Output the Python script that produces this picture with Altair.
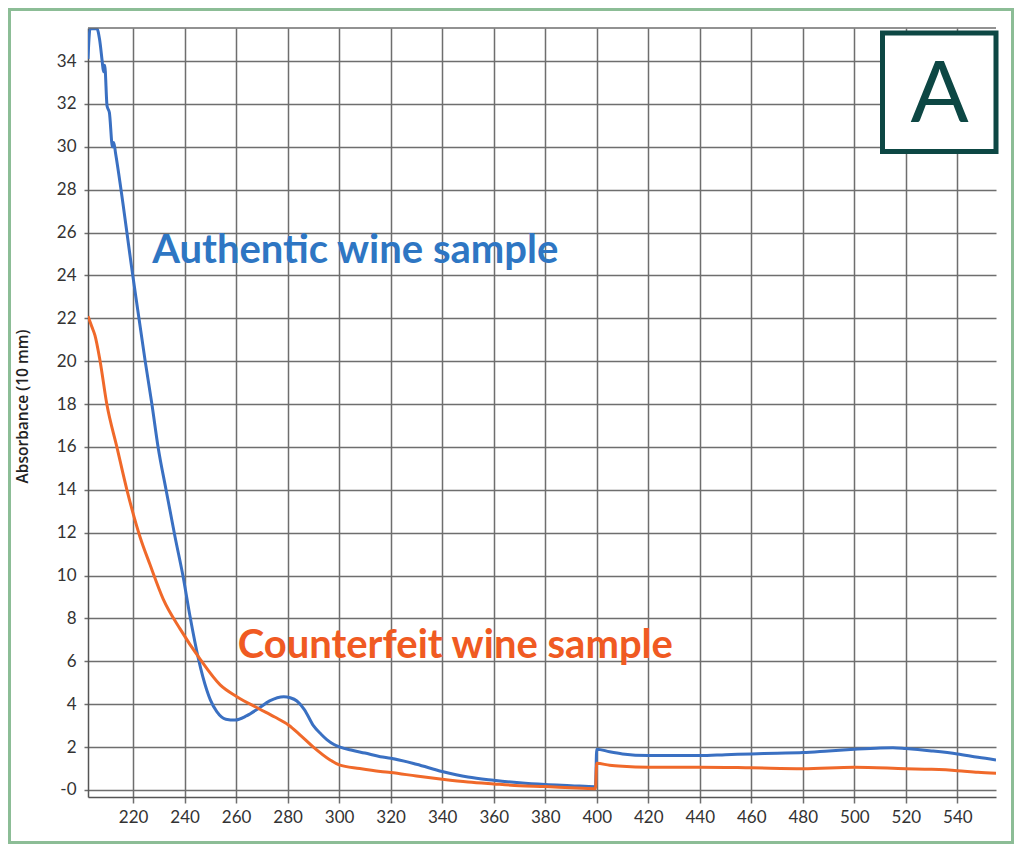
import altair as alt
import pandas as pd

# ---- data ----
authentic_wl = [202.5, 203.3, 206.0, 207.0, 208.0, 208.5, 209.0, 209.9, 210.8, 212.0, 212.5, 213.2,
                220.0, 224.7, 227.3, 229.7, 232.8, 236.3, 239.5, 242.1, 245.4, 248.6, 250.0, 252.5,
                256.0, 259.6, 264.0, 268.7, 273.0, 278.5, 281.0, 283.6, 286.5, 290.0, 293.0, 295.2,
                298.0, 300.4, 305.0, 310.0, 316.0, 320.0, 330.0, 340.0, 350.0, 360.0, 370.0, 380.0,
                390.0, 399.5, 400.0, 405.0, 410.0, 420.0, 430.0, 440.0, 450.0, 460.0, 470.0, 480.0,
                490.0, 500.0, 510.0, 515.0, 520.0, 530.0, 540.0, 548.0, 555.0]
authentic_abs = [34.1, 35.5, 35.5, 35.0, 34.0, 33.5, 33.8, 31.9, 31.6, 30.0, 30.2, 29.7,
                 23.9, 20.0, 18.0, 16.0, 14.0, 11.8, 9.9, 8.1, 6.1, 4.66, 4.2, 3.65,
                 3.3, 3.26, 3.45, 3.8, 4.15, 4.35, 4.3, 4.15, 3.75, 3.0, 2.6, 2.35,
                 2.12, 2.0, 1.85, 1.72, 1.55, 1.48, 1.2, 0.86, 0.6, 0.45, 0.33, 0.25,
                 0.2, 0.15, 1.9, 1.78, 1.68, 1.6, 1.6, 1.6, 1.64, 1.68, 1.71, 1.74,
                 1.82, 1.9, 1.96, 1.97, 1.93, 1.82, 1.68, 1.52, 1.4]

counterfeit_wl = [202.5, 204.0, 205.2, 207.2, 209.8, 213.7, 217.6, 222.7, 226.6, 231.7, 238.3,
                  246.0, 253.8, 260.3, 268.7, 275.0, 280.3, 285.0, 290.0, 296.5, 300.0, 308.0,
                  316.0, 320.0, 330.0, 340.0, 350.0, 360.0, 370.0, 380.0, 390.0, 399.5, 400.0,
                  405.0, 410.0, 420.0, 440.0, 460.0, 480.0, 500.0, 520.0, 530.0, 540.0, 548.0, 555.0]
counterfeit_abs = [22.1, 21.6, 21.2, 20.0, 18.0, 16.0, 14.0, 11.8, 10.5, 8.9, 7.5,
                   6.1, 4.9, 4.35, 3.8, 3.4, 3.03, 2.55, 2.0, 1.4, 1.17, 1.0,
                   0.86, 0.81, 0.65, 0.5, 0.37, 0.28, 0.2, 0.16, 0.1, 0.06, 1.24,
                   1.15, 1.1, 1.06, 1.06, 1.03, 0.99, 1.06, 0.99, 0.96, 0.9, 0.82, 0.78]

series_names = ["Authentic wine sample", "Counterfeit wine sample"]
series_colors = ["#3a70c2", "#f0692a"]
text_colors = ["#2e76c3", "#f05a22"]

x_ticks = [220, 240, 260, 280, 300, 320, 340, 360, 380, 400, 420, 440, 460, 480, 500, 520, 540]
y_ticks = [0, 2, 4, 6, 8, 10, 12, 14, 16, 18, 20, 22, 24, 26, 28, 30, 32, 34]

df = pd.concat([
    pd.DataFrame({"wl": authentic_wl, "abs": authentic_abs, "sample": series_names[0]}),
    pd.DataFrame({"wl": counterfeit_wl, "abs": counterfeit_abs, "sample": series_names[1]}),
])

W, H = 908, 769
GRID = "#6e6e6e"
FONT = "Lato"

xscale = alt.Scale(domain=[202.5, 555], nice=False, zero=False)
yscale = alt.Scale(domain=[-0.33, 35.54], nice=False, zero=False)

x_axis = alt.Axis(values=x_ticks, grid=True, gridColor=GRID, gridWidth=1.5, domainColor="#555",
                  domainWidth=1.5, tickColor=GRID, tickWidth=1.5, tickSize=6, labelFont=FONT,
                  labelFontSize=17, labelColor="#333", labelPadding=6, title=None, labelFlush=False)
y_axis = alt.Axis(values=y_ticks, grid=True, gridColor=GRID, gridWidth=1.5, domainColor="#555",
                  domainWidth=1.5, tickColor=GRID, tickWidth=1.5, tickSize=4, labelFont=FONT,
                  labelFontSize=17, labelColor="#333", labelPadding=8,
                  labelExpr="datum.value == 0 ? '-0' : datum.label",
                  title="Absorbance (10 mm)", titleFont="Open Sans", titleFontSize=15.5,
                  titleFontWeight=600, titleColor="#222", titleAngle=270, titleX=-66, titleY=378,
                  titleAlign="center", titleBaseline="middle")

lines = alt.Chart(df).mark_line(strokeWidth=3, clip=True, interpolate="monotone").encode(
    x=alt.X("wl:Q", scale=xscale, axis=x_axis),
    y=alt.Y("abs:Q", scale=yscale, axis=y_axis),
    color=alt.Color("sample:N", scale=alt.Scale(domain=series_names, range=series_colors), legend=None),
    detail="sample:N",
)

label_auth = alt.Chart().mark_text(text=series_names[0], font=FONT, fontSize=40, fontWeight="bold",
                                   align="left", baseline="alphabetic", color=text_colors[0]).encode(
    x=alt.datum(227.4, scale=xscale), y=alt.datum(24.57, scale=yscale))
label_cf = alt.Chart().mark_text(text=series_names[1], font=FONT, fontSize=40, fontWeight="bold",
                                 align="left", baseline="alphabetic", color=text_colors[1]).encode(
    x=alt.datum(260.6, scale=xscale), y=alt.datum(6.15, scale=yscale))

top_rule = alt.Chart().mark_rule(color=GRID, strokeWidth=1.5).encode(
    x=alt.value(0), x2=alt.value(W), y=alt.value(0))

panel_box = alt.Chart().mark_rect(fill="white", stroke="#0d4744", strokeWidth=5).encode(
    x=alt.value(794.5), x2=alt.value(908), y=alt.value(5), y2=alt.value(123.5))
panel_letter = alt.Chart().mark_text(text="A", font=FONT, fontSize=86, color="#0d4744",
                                     align="center", baseline="alphabetic").encode(
    x=alt.value(851.5), y=alt.value(93.7))

frame = alt.Chart().mark_rect(fill=None, stroke="#8cbd96", strokeWidth=3, clip=False).encode(
    x=alt.value(-78.5), x2=alt.value(W + 16.5), y=alt.value(-18.5), y2=alt.value(H + 45.5))

chart = alt.layer(lines, label_auth, label_cf, top_rule, panel_box, panel_letter, frame).properties(
    width=W, height=H,
    autosize=alt.AutoSizeParams(type="none"),
    padding={"left": 80, "top": 20, "right": 18, "bottom": 48},
    background="white",
).configure_view(stroke=None)

chart.save("out.html", embed_options={"renderer": "svg", "actions": False})
